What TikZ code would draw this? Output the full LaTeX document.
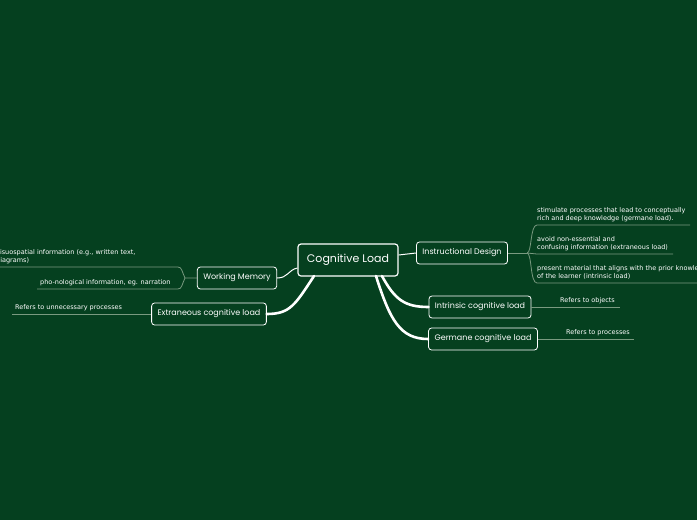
\documentclass[tikz,border=0pt]{standalone}
\usepackage{fontspec}
\setmainfont{DejaVu Sans}
\newfontfamily\hand{Poppins}
\definecolor{bg}{HTML}{05401F}
\definecolor{leafl}{HTML}{7A9A80}
\begin{document}
\begin{tikzpicture}[x=1pt,y=-1pt,
  topic/.style={draw=white,line width=0.8pt,rounded corners=3pt,text=white,font=\hand\fontsize{8}{9}\selectfont,inner xsep=6pt,minimum height=22pt},
  central/.style={topic,line width=1.2pt,font=\hand\fontsize{11}{12}\selectfont,minimum height=32pt,inner xsep=9pt},
  leaf/.style={text=white,font=\fontsize{6.5}{8}\selectfont,align=left,anchor=south west,inner sep=1pt},
  br/.style={white,line width=2.6pt,line cap=round},
  sb/.style={white,line width=1pt},
  ll/.style={leafl,line width=0.8pt}]
\fill[bg] (0,0) rectangle (697,520);
\useasboundingbox (0,0) rectangle (697,520);
\clip (0,0) rectangle (697,520);
\node[central] (c) at (348,260) {Cognitive Load};
\node[topic] (id) at (462,253) {Instructional Design};
\node[topic] (in) at (480,307) {Intrinsic cognitive load};
\node[topic] (ge) at (483,339) {Germane cognitive load};
\node[topic] (wm) at (237,278) {Working Memory};
\node[topic] (ex) at (209,314) {Extraneous cognitive load};
% branches
\draw[sb] (c.east) ++(0,-5) coordinate (c1) (c1) -- (id.west);
\draw[br] (382,276) .. controls (395,300) and (405,307) .. (in.west);
\draw[br] (376,276) .. controls (390,320) and (400,339) .. (ge.west);
\draw[sb] (c.west) ++(0,8) coordinate (c2) (c2) .. controls (288,270) and (288,278) .. (wm.east);
\draw[br] (314,276) .. controls (295,305) and (290,314) .. (ex.east);
% right leaves
\coordinate (j) at (527,253);
\draw[ll] (id.east) -- (j);
\coordinate (l1) at (537,225); \coordinate (l2) at (537,254); \coordinate (l3) at (537,283);
\draw[ll] (j) .. controls (532,253) and (530,225) .. (l1) -- (690,225);
\draw[ll] (j) -- (l2) -- (673,254);
\draw[ll] (j) .. controls (532,253) and (530,283) .. (l3) -- (700,283);
\node[leaf] (t1) at (536,223) {stimulate processes that lead to conceptually\\rich and deep knowledge (germane load).};
\node[leaf] (t2) at (536,252) {avoid non-essential and\\confusing information (extraneous load)};
\node[leaf] (t3) at (536,281) {present material that aligns with the prior knowledge\\of the learner (intrinsic load)};
\coordinate (r1) at (620,307); \coordinate (r2) at (634,339);
\draw[ll] (in.east) -- (r1);
\draw[ll] (ge.east) -- (r2);
\node[leaf] (t4) at (559,305) {Refers to objects};
\node[leaf] (t5) at (565,337) {Refers to processes};
% left leaves
\coordinate (k) at (185,278);
\coordinate (m1) at (178,267); \coordinate (m2) at (178,289);
\draw[ll] (wm.west) -- (k) .. controls (182,272) and (182,267) .. (m1) -- (-5,267);
\draw[ll] (k) .. controls (182,284) and (182,289) .. (m2) -- (37,289);
\node[leaf] (t6) at (-5,265) {visuospatial information (e.g., written text,\\diagrams)};
\node[leaf] (t7) at (39,287) {pho-nological information, eg. narration};
\coordinate (m3) at (12,314);
\draw[ll] (ex.west) -- (m3);
\node[leaf] (t8) at (14,312) {Refers to unnecessary processes};
\end{tikzpicture}
\end{document}
